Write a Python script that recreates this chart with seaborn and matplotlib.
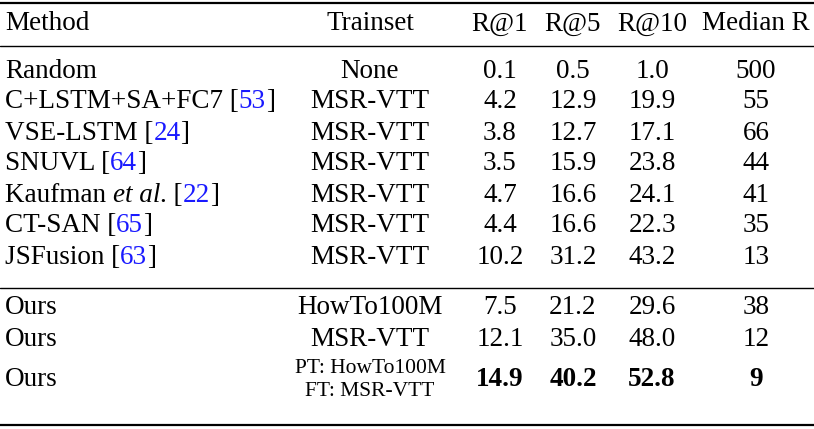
import matplotlib
matplotlib.use("Agg")
import matplotlib.pyplot as plt
import seaborn as sns

sns.set_theme(style="white")
plt.rcParams['font.family'] = ['Liberation Serif', 'DejaVu Serif']
plt.rcParams['text.color'] = 'black'

headers = ["Method", "Trainset", "R@1", "R@5", "R@10", "Median R"]
methods = [
    [("Random", "n")],
    [("C+LSTM+SA+FC7 [", "n"), ("53", "c"), ("]", "n")],
    [("VSE-LSTM [", "n"), ("24", "c"), ("]", "n")],
    [("SNUVL [", "n"), ("64", "c"), ("]", "n")],
    [("Kaufman ", "n"), ("et al", "i"), (". [", "n"), ("22", "c"), ("]", "n")],
    [("CT-SAN [", "n"), ("65", "c"), ("]", "n")],
    [("JSFusion [", "n"), ("63", "c"), ("]", "n")],
    [("Ours", "n")],
    [("Ours", "n")],
    [("Ours", "n")],
]
trainsets = ["None", "MSR-VTT", "MSR-VTT", "MSR-VTT", "MSR-VTT", "MSR-VTT",
             "MSR-VTT", "HowTo100M", "MSR-VTT", "PT: HowTo100M\nFT: MSR-VTT"]
r1 = ["0.1", "4.2", "3.8", "3.5", "4.7", "4.4", "10.2", "7.5", "12.1", "14.9"]
r5 = ["0.5", "12.9", "12.7", "15.9", "16.6", "16.6", "31.2", "21.2", "35.0", "40.2"]
r10 = ["1.0", "19.9", "17.1", "23.8", "24.1", "22.3", "43.2", "29.6", "48.0", "52.8"]
medr = ["500", "55", "66", "44", "41", "35", "13", "38", "12", "9"]
bold_rows = [9]

W, H = 814, 429
fig = plt.figure(figsize=(W / 100, H / 100), dpi=100)
ax = fig.add_axes([0, 0, 1, 1])
ax.set_xlim(0, W)
ax.set_ylim(H, 0)
ax.axis("off")

fs = 19.5
col_x = [5, 370, 500, 573, 652, 756]
row_y = [71, 102, 133, 164, 195, 226, 257, 308, 340, 380]

for j, h in enumerate(headers):
    ax.text(col_x[j], 24, h, fontsize=fs, ha="left" if j == 0 else "center",
            va="center", color="black")

for y, lw in [(3, 1.6), (46, 1.0), (288, 1.0), (425, 1.6)]:
    ax.plot([0, W], [y, y], color="black", lw=lw)

fig.canvas.draw()
renderer = fig.canvas.get_renderer()
inv = ax.transData.inverted()

for i, y in enumerate(row_y):
    x = col_x[0]
    for txt, st in methods[i]:
        t = ax.text(x, y, txt, fontsize=fs, ha="left", va="center",
                    color="#1a1aff" if st == "c" else "black",
                    style="italic" if st == "i" else "normal")
        bb = t.get_window_extent(renderer)
        x = inv.transform((bb.x1, bb.y0))[0]
    ts = trainsets[i]
    ax.text(col_x[1], y, ts, fontsize=15.5 if "\n" in ts else fs, ha="center",
            va="center", linespacing=1.25, color="black")
    w = "bold" if i in bold_rows else "normal"
    for j, arr in zip(range(2, 6), [r1, r5, r10, medr]):
        ax.text(col_x[j], y, arr[i], fontsize=fs, ha="center", va="center",
                weight=w, color="black")

fig.savefig("out.png", dpi=100)
